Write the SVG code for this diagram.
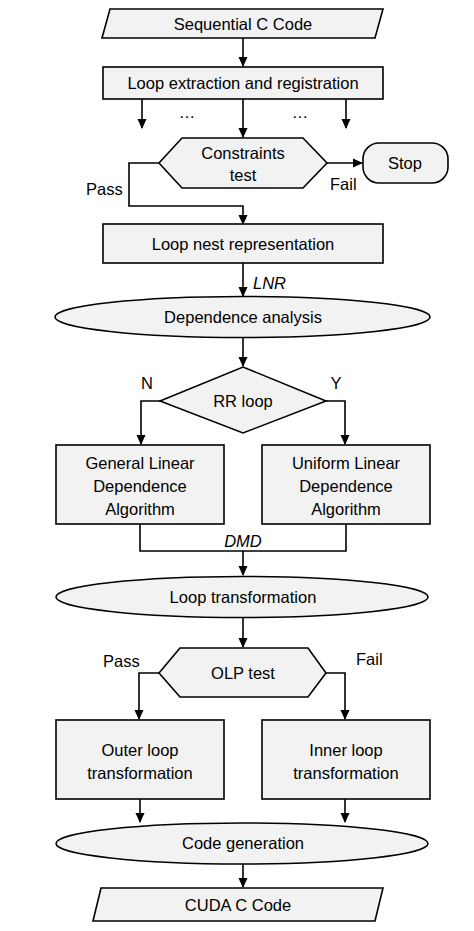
<svg xmlns="http://www.w3.org/2000/svg" width="474" height="931" viewBox="0 0 474 931">
<style>
.s{fill:#f2f2f2;stroke:#000;stroke-width:1.6}
.c{fill:none;stroke:#000;stroke-width:1.6}
text{font-family:"Liberation Sans",Arial,sans-serif;font-size:16.5px;fill:#000;text-anchor:middle}
.i{font-style:italic}
.l{text-anchor:start}
</style>
<defs>
<marker id="a" markerWidth="10" markerHeight="10" refX="9" refY="5" orient="auto" markerUnits="userSpaceOnUse">
<path d="M0,0.5 L10,5 L0,9.5 Z" fill="#000"/>
</marker>
</defs>
<rect width="474" height="931" fill="#fff"/>
<g id="connectors">
<line class="c" x1="243" y1="38" x2="243" y2="66" marker-end="url(#a)"/>
<line class="c" x1="142" y1="99" x2="142" y2="128" marker-end="url(#a)"/>
<line class="c" x1="243" y1="99" x2="243" y2="137" marker-end="url(#a)"/>
<line class="c" x1="346" y1="99" x2="346" y2="128" marker-end="url(#a)"/>
<line class="c" x1="327" y1="163" x2="362" y2="163" marker-end="url(#a)"/>
<polyline class="c" points="159,163 129,163 129,206 243,206 243,224" marker-end="url(#a)"/>
<line class="c" x1="243" y1="263" x2="243" y2="296" marker-end="url(#a)"/>
<line class="c" x1="243" y1="338" x2="243" y2="366" marker-end="url(#a)"/>
<polyline class="c" points="160,401 141,401 141,444" marker-end="url(#a)"/>
<polyline class="c" points="326,401 345,401 345,444" marker-end="url(#a)"/>
<polyline class="c" points="140,524 140,551 346,551 346,524"/>
<line class="c" x1="243" y1="551" x2="243" y2="575" marker-end="url(#a)"/>
<line class="c" x1="243" y1="617" x2="243" y2="647" marker-end="url(#a)"/>
<polyline class="c" points="159,673 139,673 139,719" marker-end="url(#a)"/>
<polyline class="c" points="326,673 345,673 345,719" marker-end="url(#a)"/>
<line class="c" x1="140" y1="799" x2="140" y2="822" marker-end="url(#a)"/>
<line class="c" x1="345" y1="799" x2="345" y2="822" marker-end="url(#a)"/>
<line class="c" x1="243" y1="864" x2="243" y2="887" marker-end="url(#a)"/>
<text x="187" y="118">…</text>
<text x="300" y="118">…</text>
<text class="l" x="86" y="195">Pass</text>
<text class="l" x="330" y="190">Fail</text>
<text class="i l" x="253" y="289">LNR</text>
<text x="147" y="389">N</text>
<text x="336" y="389">Y</text>
<text class="i" x="243" y="547">DMD</text>
<text class="l" x="103" y="667">Pass</text>
<text class="l" x="356" y="665">Fail</text>
</g>
<g id="n1"><polygon class="s" points="110,9 383,9 375,38 102,38"/><text x="243" y="30">Sequential C Code</text></g>
<g id="n2"><rect class="s" x="103" y="67" width="280" height="32"/><text x="243" y="89">Loop extraction and registration</text></g>
<g id="n3"><polygon class="s" points="159,163 182,138 303,138 327,163 303,188 182,188"/><text x="243" y="159">Constraints</text><text x="243" y="181">test</text></g>
<g id="n4"><rect class="s" x="363" y="143" width="85" height="40" rx="16"/><text x="405" y="169">Stop</text></g>
<g id="n5"><rect class="s" x="103" y="224" width="280" height="39"/><text x="243" y="250">Loop nest representation</text></g>
<g id="n6"><ellipse class="s" cx="242.5" cy="317" rx="187.5" ry="20.5"/><text x="243" y="323">Dependence analysis</text></g>
<g id="n7"><polygon class="s" points="243,367 326,401 243,433 160,401"/><text x="243" y="407">RR loop</text></g>
<g id="n8"><rect class="s" x="56" y="445" width="168" height="79"/><text x="140" y="469">General Linear</text><text x="140" y="492">Dependence</text><text x="140" y="515">Algorithm</text></g>
<g id="n9"><rect class="s" x="262" y="445" width="168" height="79"/><text x="346" y="469">Uniform Linear</text><text x="346" y="492">Dependence</text><text x="346" y="515">Algorithm</text></g>
<g id="n10"><ellipse class="s" cx="242" cy="597" rx="186" ry="20.5"/><text x="243" y="603">Loop transformation</text></g>
<g id="n11"><polygon class="s" points="159,673 180,648 308,648 326,673 308,697 180,697"/><text x="243" y="679">OLP test</text></g>
<g id="n12"><rect class="s" x="56" y="720" width="168" height="79"/><text x="140" y="756">Outer loop</text><text x="140" y="779">transformation</text></g>
<g id="n13"><rect class="s" x="262" y="720" width="168" height="79"/><text x="346" y="756">Inner loop</text><text x="346" y="779">transformation</text></g>
<g id="n14"><ellipse class="s" cx="242" cy="843.5" rx="186" ry="20.5"/><text x="243" y="849">Code generation</text></g>
<g id="n15"><polygon class="s" points="101,888 383,888 375,921 93,921"/><text x="238" y="911">CUDA C Code</text></g>
</svg>
